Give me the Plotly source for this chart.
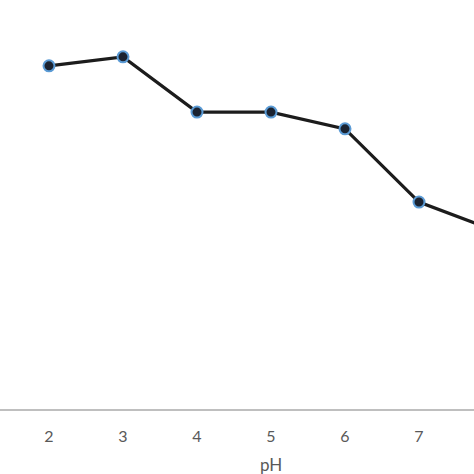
import plotly.graph_objects as go

# pH vs response (y axis hidden in the original crop)
ph = [2, 3, 4, 5, 6, 7, 8]
values = [83.9, 86.1, 72.6, 72.6, 68.5, 50.6, 43.8]
tick_ph = [2, 3, 4, 5, 6, 7]

trace = go.Scatter(x=ph,
                   y=values,
                   mode='lines+markers',
                   line=dict(color='#1c1c1c', width=3.2),
                   marker=dict(size=11, color='#1b2331',
                               line=dict(color='#5b9bd5', width=2)),
                   cliponaxis=False,
                   hoverinfo='x+y')

layout = go.Layout(width=474,
                   height=474,
                   margin=dict(l=0, r=0, t=0, b=65),
                   paper_bgcolor='white',
                   plot_bgcolor='white',
                   showlegend=False,
                   font=dict(family='Lato, Open Sans, sans-serif', color='#595959', size=16),
                   xaxis=dict(range=[1.338, 7.743],
                              tickvals=tick_ph,
                              showgrid=False,
                              zeroline=False,
                              showline=True,
                              linecolor='#bfbfbf',
                              linewidth=1.5,
                              ticks='outside',
                              tickcolor='rgba(0,0,0,0)',
                              ticklen=12,
                              tickfont=dict(size=16, color='#595959')),
                   yaxis=dict(range=[0, 100],
                              visible=False,
                              showgrid=False,
                              zeroline=False))

fig = go.Figure(data=[trace], layout=layout)
# axis title sits under pH 5 because the original chart is cropped on the right
fig.add_annotation(x=5, xref='x', y=0, yref='paper', yanchor='middle',
                   yshift=-55, text='pH', showarrow=False,
                   font=dict(size=17, color='#595959'))
fig.write_html("out.html", config={'displayModeBar': False},
               post_script="document.body.style.margin='0';")
